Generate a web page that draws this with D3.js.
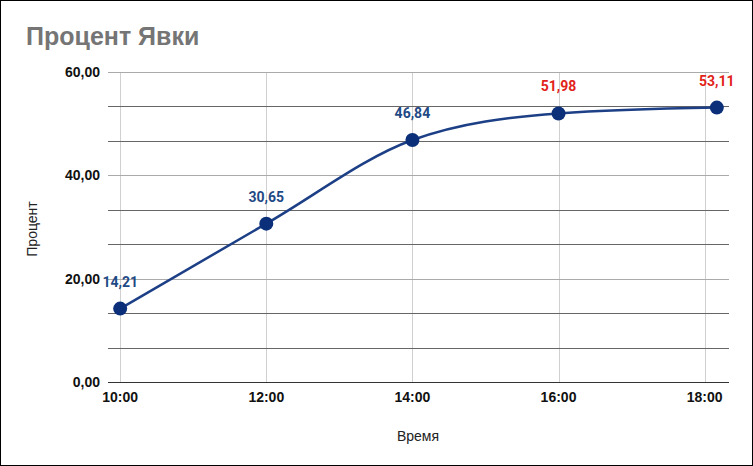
<!DOCTYPE html>
<html>
<head>
<meta charset="utf-8">
<script src="https://cdn.jsdelivr.net/npm/d3@7"></script>
<style>
  html, body { margin: 0; padding: 0; background: #fff; }
  svg { display: block; }
</style>
</head>
<body>
<div id="chart"></div>
<script>
// Chart data
const times = ["10:00", "12:00", "14:00", "16:00", "18:10"]
const turnout = [14.21, 30.65, 46.84, 51.98, 53.11]
const highlighted = ["16:00", "18:10"]
const xTickLabels = ["10:00", "12:00", "14:00", "16:00", "18:00"]
const yTickLabels = [0, 20, 40, 60]

const width = 753
const height = 466

const parseTime = d3.timeParse("%H:%M")
const ruFormat = d3.formatLocale({ decimal: ",", thousands: " ", grouping: [3], currency: ["", ""] }).format(".2f")

const points = times.map((t, i) => ({ time: t, date: parseTime(t), value: turnout[i] }))

const svg = d3.select("#chart")
  .append("svg")
  .attr("width", width)
  .attr("height", height)

// Outer frame
svg.append("rect")
  .attr("x", 0.5).attr("y", 0.5)
  .attr("width", width - 1).attr("height", height - 1)
  .attr("fill", "#fff")
  .attr("stroke", "#000")

const x = d3.scaleTime()
  .domain([parseTime("09:50"), parseTime("18:20")])
  .range([108, 729])

const y = d3.scaleLinear()
  .domain([0, 60])
  .range([382, 72])

// Vertical gridlines
svg.append("g")
  .selectAll("line")
  .data(xTickLabels)
  .join("line")
  .attr("x1", d => Math.round(x(parseTime(d))) + 0.5)
  .attr("x2", d => Math.round(x(parseTime(d))) + 0.5)
  .attr("y1", y(60))
  .attr("y2", y(0))
  .attr("stroke", "#d0d0d0")

// Horizontal gridlines: labelled ones light, minor ones darker
const gridValues = d3.range(0, 10).map(i => i * 60 / 9)
svg.append("g")
  .selectAll("line")
  .data(gridValues)
  .join("line")
  .attr("x1", 108)
  .attr("x2", 729)
  .attr("y1", d => Math.round(y(d)) + 0.5)
  .attr("y2", d => Math.round(y(d)) + 0.5)
  .attr("stroke", (d, i) => i === 0 ? "#333" : (i % 3 === 0 ? "#aaa" : "#666"))

// Y tick labels
svg.append("g")
  .selectAll("text")
  .data(yTickLabels)
  .join("text")
  .attr("x", 100)
  .attr("y", d => y(d) + 5)
  .attr("text-anchor", "end")
  .attr("font-family", "Liberation Sans, Arial, sans-serif")
  .attr("font-size", 14)
  .attr("font-weight", "bold")
  .attr("fill", "#111")
  .text(d => ruFormat(d))

// X tick labels
svg.append("g")
  .selectAll("text")
  .data(xTickLabels)
  .join("text")
  .attr("x", d => x(parseTime(d)))
  .attr("y", 402)
  .attr("text-anchor", "middle")
  .attr("font-family", "Liberation Sans, Arial, sans-serif")
  .attr("font-size", 14)
  .attr("font-weight", "bold")
  .attr("fill", "#111")
  .text(d => d)

// Title
svg.append("text")
  .attr("x", 26)
  .attr("y", 45)
  .attr("font-family", "Liberation Sans, Arial, sans-serif")
  .attr("font-size", 25)
  .attr("font-weight", "bold")
  .attr("fill", "#757575")
  .text("Процент Явки")

// Axis titles
svg.append("text")
  .attr("x", 418)
  .attr("y", 441)
  .attr("text-anchor", "middle")
  .attr("font-family", "Liberation Sans, Arial, sans-serif")
  .attr("font-size", 14)
  .attr("fill", "#222")
  .text("Время")

svg.append("text")
  .attr("transform", "translate(37, 229) rotate(-90)")
  .attr("text-anchor", "middle")
  .attr("font-family", "Liberation Sans, Arial, sans-serif")
  .attr("font-size", 14)
  .attr("fill", "#222")
  .text("Процент")

// Series line
const line = d3.line()
  .x(d => x(d.date))
  .y(d => y(d.value))
  .curve(d3.curveMonotoneX)

svg.append("path")
  .datum(points)
  .attr("fill", "none")
  .attr("stroke", "#1c3f86")
  .attr("stroke-width", 2.5)
  .attr("d", line)

// Points
svg.append("g")
  .selectAll("circle")
  .data(points)
  .join("circle")
  .attr("cx", d => x(d.date))
  .attr("cy", d => y(d.value))
  .attr("r", 7)
  .attr("fill", "#0b2f79")

// Data labels
svg.append("g")
  .selectAll("text")
  .data(points)
  .join("text")
  .attr("x", d => x(d.date))
  .attr("y", d => y(d.value) - 22)
  .attr("text-anchor", "middle")
  .attr("font-family", "Roboto, Liberation Sans, sans-serif")
  .attr("font-size", 14)
  .attr("font-weight", "bold")
  .attr("fill", d => highlighted.includes(d.time) ? "#e2231a" : "#1f4a85")
  .text(d => ruFormat(d.value))
</script>
</body>
</html>
